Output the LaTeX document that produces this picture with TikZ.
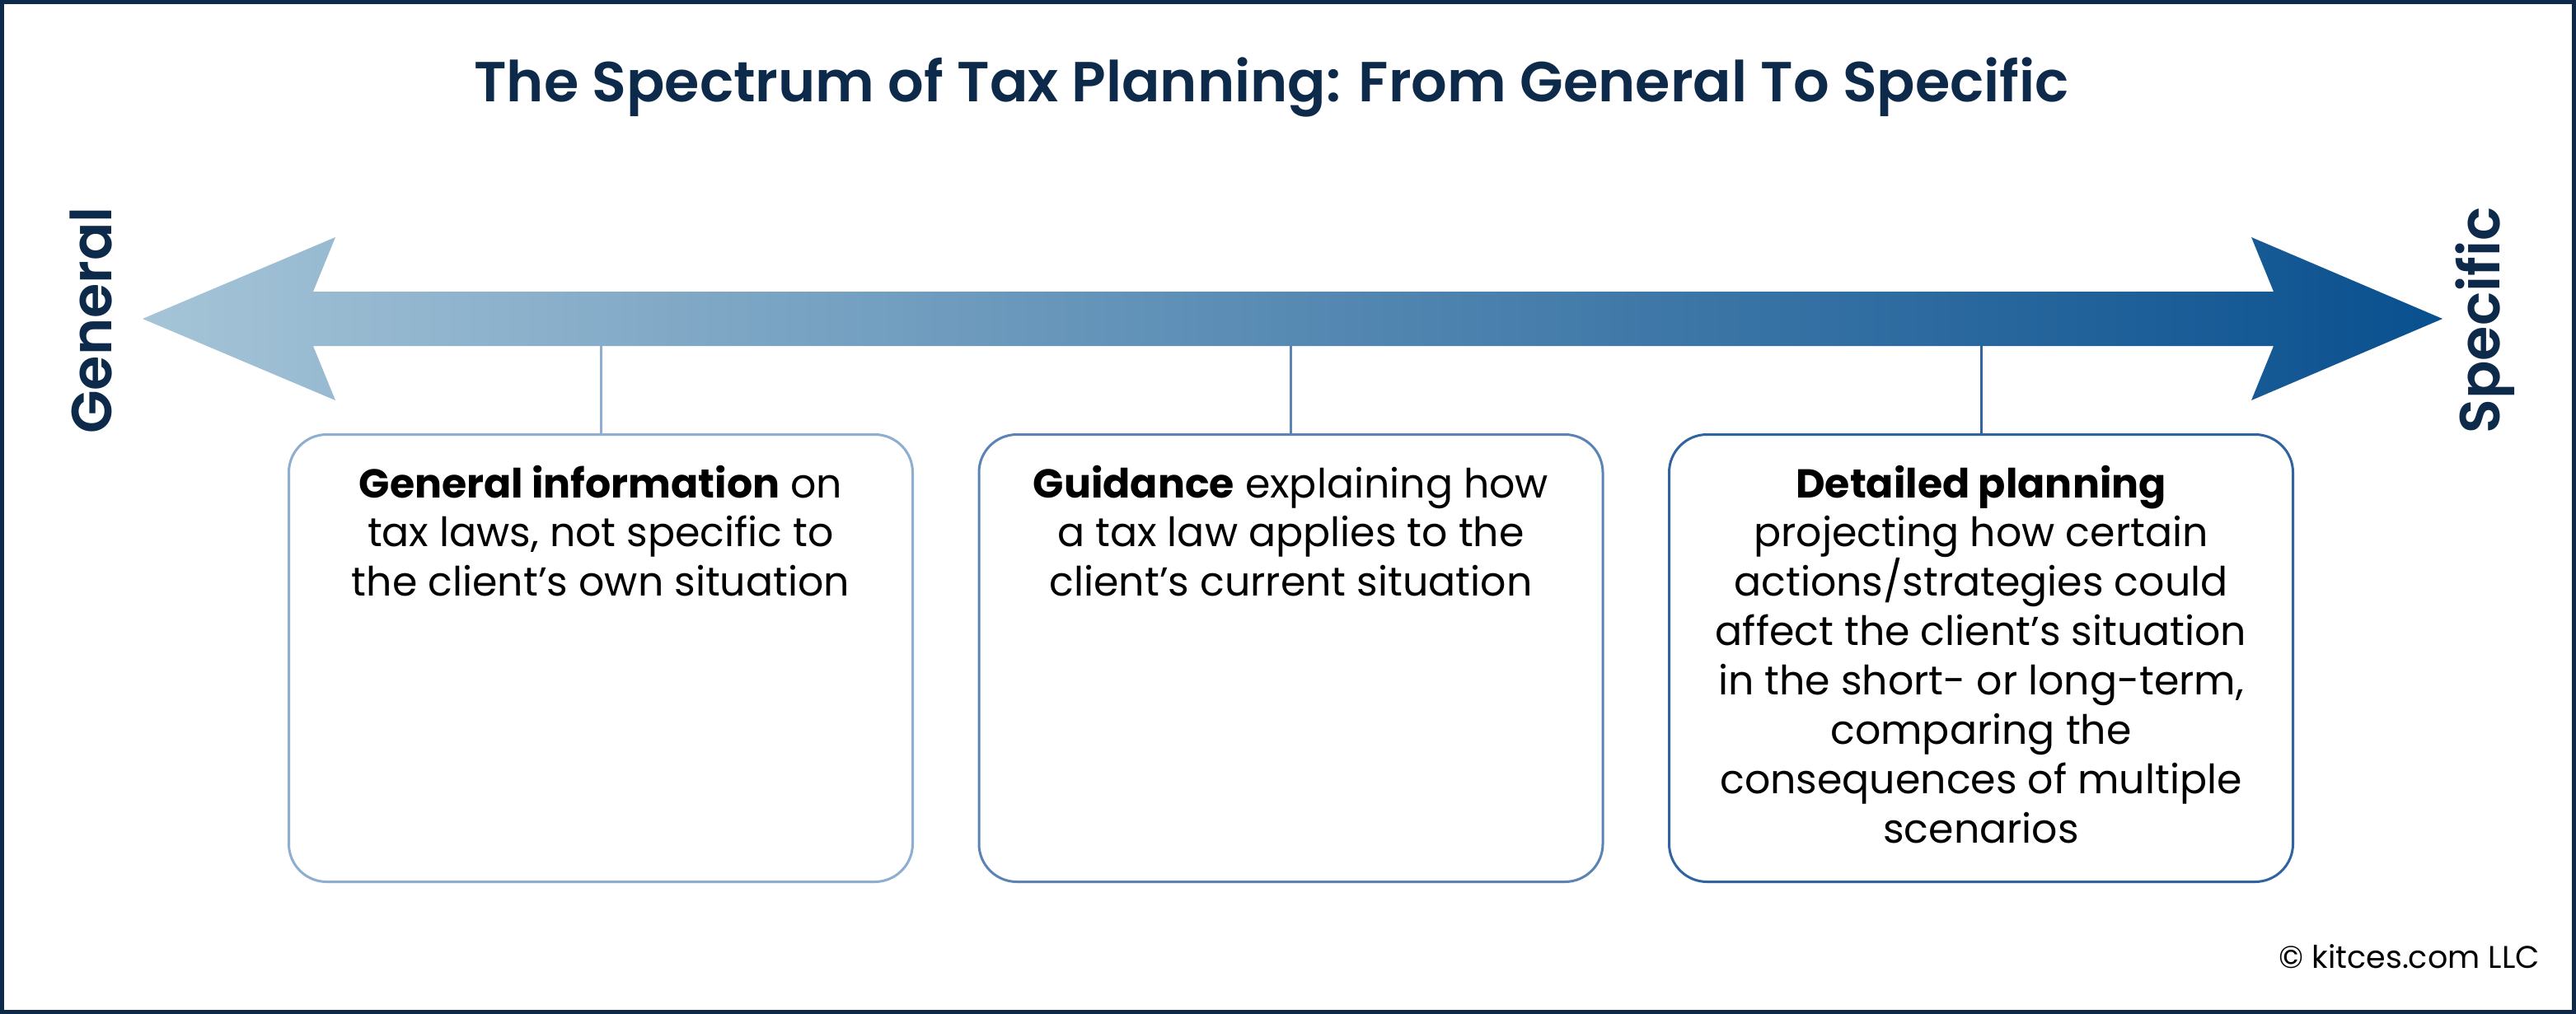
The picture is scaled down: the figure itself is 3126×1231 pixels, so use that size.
\documentclass[tikz,border=0pt]{standalone}
\usepackage{fontspec}
\setmainfont{Poppins}
\newfontfamily\semib{Poppins SemiBold}
\definecolor{navy}{HTML}{0D2A4B}
\definecolor{bA}{HTML}{8DAED0}
\definecolor{bB}{HTML}{5B83B5}
\definecolor{bC}{HTML}{2F64A1}
\definecolor{arrL}{HTML}{A5C4D7}
\definecolor{arrR}{HTML}{09508F}
\begin{document}
\begin{tikzpicture}[x=1pt,y=-1pt,
  box/.style={draw, line width=3pt, rounded corners=46pt, minimum width=757pt, minimum height=543pt, inner sep=0pt},
  txt/.style={font=\fontsize{49}{59.85}\selectfont, align=center, inner sep=0pt, anchor=base, text=black},
  head/.style={font=\semib\fontsize{68.5}{80}\selectfont, text=navy, inner sep=0pt},
  conn/.style={line width=3pt}]
\useasboundingbox (0,0) rectangle (3126,1231);
\fill[white] (0,0) rectangle (3126,1231);
\draw[navy, line width=5pt] (2.5,2.5) rectangle (3123.5,1228.5);

\node[head, anchor=base] (title) at (1543,123) {The Spectrum of Tax Planning: From General To Specific};

\node[box, draw=bA] (b1) at (729,799) {};
\node[box, draw=bB] (b2) at (1566.5,799) {};
\node[box, draw=bC] (b3) at (2404,799) {};

\coordinate (s1) at (729,410);
\coordinate (s2) at (1566.5,410);
\coordinate (s3) at (2404,410);
\draw[conn, bA] (s1) -- (b1.north);
\draw[conn, bB] (s2) -- (b2.north);
\draw[conn, bC] (s3) -- (b3.north);

\shade[left color=arrL, right color=arrR]
  (173,387) -- (407,288) -- (380,354) -- (2759,354) -- (2732,288) -- (2964,387)
  -- (2732,486) -- (2759,420) -- (380,420) -- (407,486) -- cycle;

\node[head, rotate=90, anchor=base] (gen) at (135,389) {General};
\node[head, rotate=90, anchor=base] (spec) at (3033,389) {Specific};

% anchor=base of a multi-line node is the baseline of its last line
\node[txt] (t1) at (729,723.7) {\textbf{General information} on\\tax laws, not specific to\\the client’s own situation};
\node[txt] (t2) at (1566.5,723.7) {\textbf{Guidance} explaining how\\a tax law applies to the\\client’s current situation};
\node[txt] (t3) at (2404,1023) {\textbf{Detailed planning}\\projecting how certain\\actions/strategies could\\affect the client’s situation\\in the short- or long-term,\\comparing the\\consequences of multiple\\scenarios};

\node[anchor=base east, inner sep=0pt, font=\fontsize{38}{44}\selectfont] (copy) at (3082,1175) {© kitces.com LLC};
\end{tikzpicture}
\end{document}
